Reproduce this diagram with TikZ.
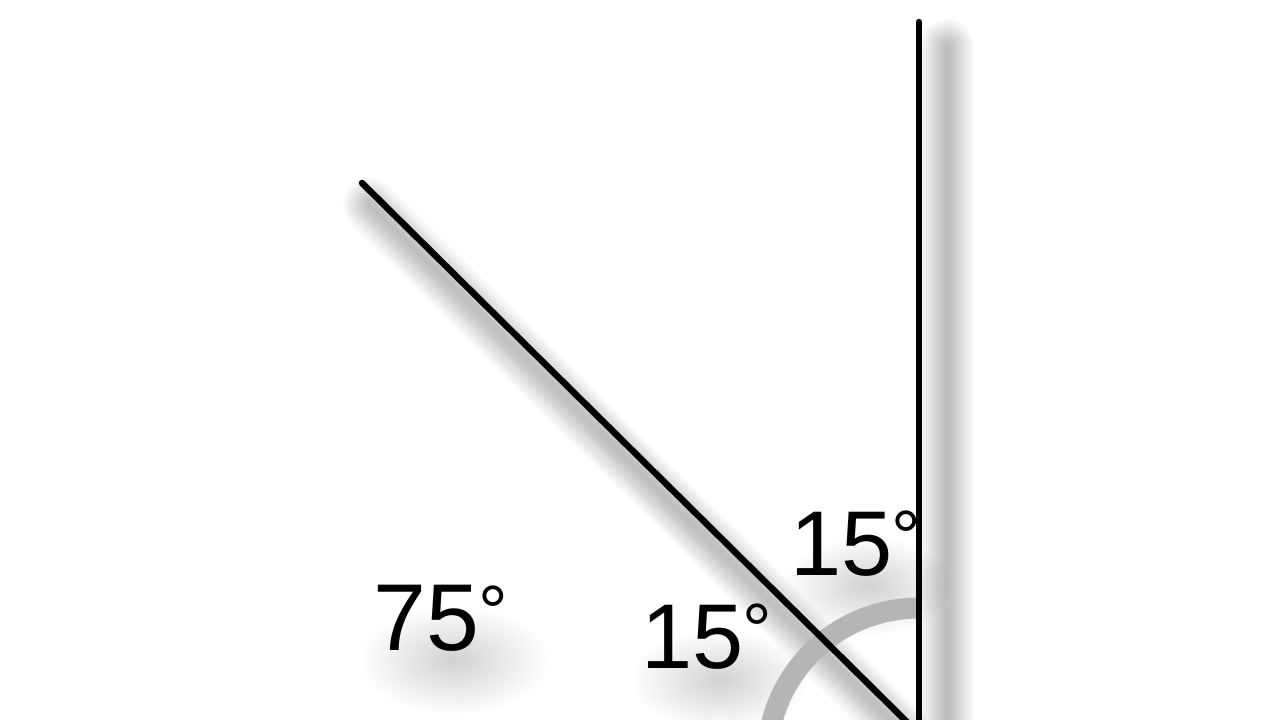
\documentclass[tikz,border=0pt]{standalone}
\usepackage{fontspec}
\setmainfont{Liberation Sans}
\usetikzlibrary{calc,fadings}
\tikzfading[name=softblob, inner color=transparent!82, outer color=transparent!100]
\newcommand{\degsign}{\raisebox{13pt}{\fontsize{74}{74}\selectfont °}}
\tikzset{
  ray/.style={line width=6.5pt, line cap=round, black},
  arcmark/.style={line width=21pt, color=gray!58},
  glow/.style={line width=#1, black, opacity=0.02, line cap=round},
  deglabel/.style={font=\fontsize{92}{92}\selectfont, anchor=base west, inner sep=0pt},
  blob/.style={black, path fading=softblob, fit fading=true},
}
\begin{document}
\begin{tikzpicture}[x=1pt,y=-1pt]
    \useasboundingbox (0,0) rectangle (1280,720);
    \fill[white] (0,0) rectangle (1280,720);
    \clip (0,0) rectangle (1280,720);

    % ends of the rays
    \coordinate (top) at (919,22);
    \coordinate (vtx) at (919,734);
    \coordinate (tail) at (362,183);
    \coordinate (arcc) at (919,760);

    % soft shadows
    \foreach \w in {6,10,...,54} {
        \draw[glow=\w pt] ($(top)+(28,24)$) -- ($(vtx)+(28,24)$);
        \draw[glow=\w pt] ($(tail)+(8,22)$) -- ($(vtx)+(8,22)$);
    }
    \fill[blob] (454,660) ellipse[x radius=95, y radius=55];
    \fill[blob] (720,680) ellipse[x radius=90, y radius=50];
    \fill[blob] (868,586) ellipse[x radius=85, y radius=50];

    % angle mark
    \draw[arcmark] ($(arcc)+(0,-152)$) arc[start angle=-90, end angle=-182, radius=152];

    % rays
    \draw[ray] (top) -- (vtx);
    \draw[ray] (tail) -- (vtx);

    % labels
    \node[deglabel, font=\fontsize{95}{95}\selectfont] (big) at (373,650) {75\degsign};
    \node[deglabel] (lowa) at (641,668) {15\kern-1pt\degsign};
    \node[deglabel] (upa) at (790,575) {15\kern-1pt\degsign};
\end{tikzpicture}
\end{document}
